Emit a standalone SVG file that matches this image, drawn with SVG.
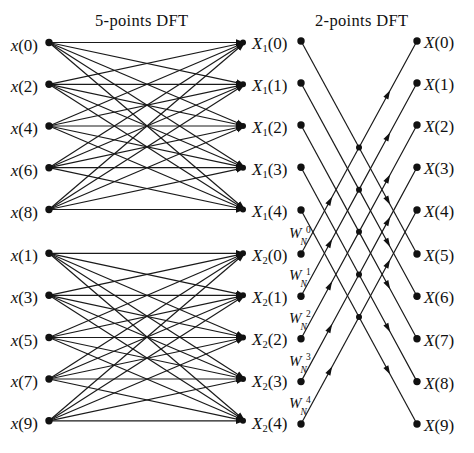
<svg xmlns="http://www.w3.org/2000/svg" width="474" height="453" viewBox="0 0 474 453">
<defs>
<style>
text{font-family:"Liberation Serif","Times New Roman",serif;fill:#111}
.t{font-size:16.5px}
.lb{font-size:17px}
.ml{font-size:17px}
.i{font-style:italic}
.sub{font-size:10.5px}
.w{font-size:15px;font-style:italic}
.ws{font-size:9.5px;font-style:italic}
.sp{font-size:9.5px}
line,path{stroke:#1a1a1a;stroke-width:1.2;fill:none}
.e{marker-end:url(#ah)}
.m{marker-mid:url(#am)}
circle{fill:#111}
</style>
<marker id="ah" viewBox="-9 -4 10 8" refX="0" refY="0" markerWidth="10" markerHeight="8" markerUnits="userSpaceOnUse" orient="auto"><path d="M-9,-3.2 L0,0 L-9,3.2 z" style="fill:#111;stroke:none"/></marker>
<marker id="am" viewBox="-5 -4 10 8" refX="0" refY="0" markerWidth="10" markerHeight="8" markerUnits="userSpaceOnUse" orient="auto"><path d="M-4.5,-2.8 L4.5,0 L-4.5,2.8 z" style="fill:#111;stroke:none"/></marker>
</defs>

<g id="titles">
<text class="t" x="141.5" y="26" text-anchor="middle" textLength="93" lengthAdjust="spacing">5-points DFT</text>
<text class="t" x="361.5" y="26" text-anchor="middle" textLength="93" lengthAdjust="spacing">2-points DFT</text>
</g>

<g id="connectors">
<g id="dft5-upper">
<line class="e" x1="49" y1="42.5" x2="245" y2="42.5"/>
<line class="e" x1="49" y1="42.5" x2="245" y2="84.3"/>
<line class="e" x1="49" y1="42.5" x2="245" y2="126"/>
<line class="e" x1="49" y1="42.5" x2="245" y2="167.7"/>
<line class="e" x1="49" y1="42.5" x2="245" y2="209.5"/>
<line class="e" x1="49" y1="84.3" x2="245" y2="42.5"/>
<line class="e" x1="49" y1="84.3" x2="245" y2="84.3"/>
<line class="e" x1="49" y1="84.3" x2="245" y2="126"/>
<line class="e" x1="49" y1="84.3" x2="245" y2="167.7"/>
<line class="e" x1="49" y1="84.3" x2="245" y2="209.5"/>
<line class="e" x1="49" y1="126" x2="245" y2="42.5"/>
<line class="e" x1="49" y1="126" x2="245" y2="84.3"/>
<line class="e" x1="49" y1="126" x2="245" y2="126"/>
<line class="e" x1="49" y1="126" x2="245" y2="167.7"/>
<line class="e" x1="49" y1="126" x2="245" y2="209.5"/>
<line class="e" x1="49" y1="167.7" x2="245" y2="42.5"/>
<line class="e" x1="49" y1="167.7" x2="245" y2="84.3"/>
<line class="e" x1="49" y1="167.7" x2="245" y2="126"/>
<line class="e" x1="49" y1="167.7" x2="245" y2="167.7"/>
<line class="e" x1="49" y1="167.7" x2="245" y2="209.5"/>
<line class="e" x1="49" y1="209.5" x2="245" y2="42.5"/>
<line class="e" x1="49" y1="209.5" x2="245" y2="84.3"/>
<line class="e" x1="49" y1="209.5" x2="245" y2="126"/>
<line class="e" x1="49" y1="209.5" x2="245" y2="167.7"/>
<line class="e" x1="49" y1="209.5" x2="245" y2="209.5"/>
</g>
<g id="dft5-lower">
<line class="e" x1="49" y1="253.3" x2="245" y2="253.3"/>
<line class="e" x1="49" y1="253.3" x2="245" y2="295.3"/>
<line class="e" x1="49" y1="253.3" x2="245" y2="337.5"/>
<line class="e" x1="49" y1="253.3" x2="245" y2="379"/>
<line class="e" x1="49" y1="253.3" x2="245" y2="420.8"/>
<line class="e" x1="49" y1="295.3" x2="245" y2="253.3"/>
<line class="e" x1="49" y1="295.3" x2="245" y2="295.3"/>
<line class="e" x1="49" y1="295.3" x2="245" y2="337.5"/>
<line class="e" x1="49" y1="295.3" x2="245" y2="379"/>
<line class="e" x1="49" y1="295.3" x2="245" y2="420.8"/>
<line class="e" x1="49" y1="337.5" x2="245" y2="253.3"/>
<line class="e" x1="49" y1="337.5" x2="245" y2="295.3"/>
<line class="e" x1="49" y1="337.5" x2="245" y2="337.5"/>
<line class="e" x1="49" y1="337.5" x2="245" y2="379"/>
<line class="e" x1="49" y1="337.5" x2="245" y2="420.8"/>
<line class="e" x1="49" y1="379" x2="245" y2="253.3"/>
<line class="e" x1="49" y1="379" x2="245" y2="295.3"/>
<line class="e" x1="49" y1="379" x2="245" y2="337.5"/>
<line class="e" x1="49" y1="379" x2="245" y2="379"/>
<line class="e" x1="49" y1="379" x2="245" y2="420.8"/>
<line class="e" x1="49" y1="420.8" x2="245" y2="253.3"/>
<line class="e" x1="49" y1="420.8" x2="245" y2="295.3"/>
<line class="e" x1="49" y1="420.8" x2="245" y2="337.5"/>
<line class="e" x1="49" y1="420.8" x2="245" y2="379"/>
<line class="e" x1="49" y1="420.8" x2="245" y2="420.8"/>
</g>
<g id="dft2">
<path d="M301 41L359 147.5"/>
<path class="m" d="M359 147.5L388 200.75L417 254"/>
<path class="m" d="M301 254L330 200.75L359 147.5"/>
<path class="m" d="M359 147.5L388 94.25L417 41"/>
<path d="M301 83L359 189.65"/>
<path class="m" d="M359 189.65L388 242.98L417 296.3"/>
<path class="m" d="M301 296.3L330 242.98L359 189.65"/>
<path class="m" d="M359 189.65L388 136.33L417 83"/>
<path d="M301 125L359 231.85"/>
<path class="m" d="M359 231.85L388 285.28L417 338.7"/>
<path class="m" d="M301 338.7L330 285.28L359 231.85"/>
<path class="m" d="M359 231.85L388 178.43L417 125"/>
<path d="M301 167.3L359 274.45"/>
<path class="m" d="M359 274.45L388 328.03L417 381.6"/>
<path class="m" d="M301 381.6L330 328.03L359 274.45"/>
<path class="m" d="M359 274.45L388 220.88L417 167.3"/>
<path d="M301 210L359 317"/>
<path class="m" d="M359 317L388 370.5L417 424"/>
<path class="m" d="M301 424L330 370.5L359 317"/>
<path class="m" d="M359 317L388 263.5L417 210"/>
</g>
</g>

<g id="inputs">
<g id="n-x0"><circle cx="49" cy="42.5" r="3.7"/><text class="lb" x="38" y="50.5" text-anchor="end"><tspan class="i">x</tspan>(0)</text></g>
<g id="n-x2"><circle cx="49" cy="84.3" r="3.7"/><text class="lb" x="38" y="92.3" text-anchor="end"><tspan class="i">x</tspan>(2)</text></g>
<g id="n-x4"><circle cx="49" cy="126" r="3.7"/><text class="lb" x="38" y="134" text-anchor="end"><tspan class="i">x</tspan>(4)</text></g>
<g id="n-x6"><circle cx="49" cy="167.7" r="3.7"/><text class="lb" x="38" y="175.7" text-anchor="end"><tspan class="i">x</tspan>(6)</text></g>
<g id="n-x8"><circle cx="49" cy="209.5" r="3.7"/><text class="lb" x="38" y="217.5" text-anchor="end"><tspan class="i">x</tspan>(8)</text></g>
<g id="n-x1"><circle cx="49" cy="253.3" r="3.7"/><text class="lb" x="38" y="261.3" text-anchor="end"><tspan class="i">x</tspan>(1)</text></g>
<g id="n-x3"><circle cx="49" cy="295.3" r="3.7"/><text class="lb" x="38" y="303.3" text-anchor="end"><tspan class="i">x</tspan>(3)</text></g>
<g id="n-x5"><circle cx="49" cy="337.5" r="3.7"/><text class="lb" x="38" y="345.5" text-anchor="end"><tspan class="i">x</tspan>(5)</text></g>
<g id="n-x7"><circle cx="49" cy="379" r="3.7"/><text class="lb" x="38" y="387" text-anchor="end"><tspan class="i">x</tspan>(7)</text></g>
<g id="n-x9"><circle cx="49" cy="420.8" r="3.7"/><text class="lb" x="38" y="428.8" text-anchor="end"><tspan class="i">x</tspan>(9)</text></g>
</g>

<g id="middle">
<g id="n-X10"><circle cx="243" cy="42.5" r="3"/><text class="ml" x="252" y="49"><tspan class="i">X</tspan><tspan class="sub" dy="3">1</tspan><tspan dy="-3">(0)</tspan></text><circle cx="301" cy="41" r="3.7"/></g>
<g id="n-X11"><circle cx="243" cy="84.3" r="3"/><text class="ml" x="252" y="91"><tspan class="i">X</tspan><tspan class="sub" dy="3">1</tspan><tspan dy="-3">(1)</tspan></text><circle cx="301" cy="83" r="3.7"/></g>
<g id="n-X12"><circle cx="243" cy="126" r="3"/><text class="ml" x="252" y="133"><tspan class="i">X</tspan><tspan class="sub" dy="3">1</tspan><tspan dy="-3">(2)</tspan></text><circle cx="301" cy="125" r="3.7"/></g>
<g id="n-X13"><circle cx="243" cy="167.7" r="3"/><text class="ml" x="252" y="174.5"><tspan class="i">X</tspan><tspan class="sub" dy="3">1</tspan><tspan dy="-3">(3)</tspan></text><circle cx="301" cy="167.3" r="3.7"/></g>
<g id="n-X14"><circle cx="243" cy="209.5" r="3"/><text class="ml" x="252" y="216.5"><tspan class="i">X</tspan><tspan class="sub" dy="3">1</tspan><tspan dy="-3">(4)</tspan></text><circle cx="301" cy="210" r="3.7"/></g>
<g id="n-X20"><circle cx="243" cy="253.3" r="3"/><text class="ml" x="252" y="260.5"><tspan class="i">X</tspan><tspan class="sub" dy="3">2</tspan><tspan dy="-3">(0)</tspan></text><circle cx="301" cy="254" r="3.7"/></g>
<g id="n-X21"><circle cx="243" cy="295.3" r="3"/><text class="ml" x="252" y="302.5"><tspan class="i">X</tspan><tspan class="sub" dy="3">2</tspan><tspan dy="-3">(1)</tspan></text><circle cx="301" cy="296.3" r="3.7"/></g>
<g id="n-X22"><circle cx="243" cy="337.5" r="3"/><text class="ml" x="252" y="344.8"><tspan class="i">X</tspan><tspan class="sub" dy="3">2</tspan><tspan dy="-3">(2)</tspan></text><circle cx="301" cy="338.7" r="3.7"/></g>
<g id="n-X23"><circle cx="243" cy="379" r="3"/><text class="ml" x="252" y="386.8"><tspan class="i">X</tspan><tspan class="sub" dy="3">2</tspan><tspan dy="-3">(3)</tspan></text><circle cx="301" cy="381.6" r="3.7"/></g>
<g id="n-X24"><circle cx="243" cy="420.8" r="3"/><text class="ml" x="252" y="428.5"><tspan class="i">X</tspan><tspan class="sub" dy="3">2</tspan><tspan dy="-3">(4)</tspan></text><circle cx="301" cy="424" r="3.7"/></g>
</g>

<g id="twiddles">
<text x="289" y="238"><tspan class="w">W</tspan></text><text class="ws" x="300.5" y="245">N</text><text class="sp" x="306" y="232.5">0</text>
<text x="289" y="280.3"><tspan class="w">W</tspan></text><text class="ws" x="300.5" y="287.3">N</text><text class="sp" x="306" y="274.8">1</text>
<text x="289" y="322.7"><tspan class="w">W</tspan></text><text class="ws" x="300.5" y="329.7">N</text><text class="sp" x="306" y="317.2">2</text>
<text x="289" y="365.6"><tspan class="w">W</tspan></text><text class="ws" x="300.5" y="372.6">N</text><text class="sp" x="306" y="360.1">3</text>
<text x="289" y="408"><tspan class="w">W</tspan></text><text class="ws" x="300.5" y="415">N</text><text class="sp" x="306" y="402.5">4</text>
</g>

<g id="crossings">
<circle cx="359" cy="147.5" r="3"/>
<circle cx="359" cy="189.65" r="3"/>
<circle cx="359" cy="231.85" r="3"/>
<circle cx="359" cy="274.45" r="3"/>
<circle cx="359" cy="317" r="3"/>
</g>

<g id="outputs">
<g id="n-Y0"><circle cx="417" cy="41" r="3.7"/><text class="lb" x="424" y="48"><tspan class="i">X</tspan>(0)</text></g>
<g id="n-Y1"><circle cx="417" cy="83" r="3.7"/><text class="lb" x="424" y="90"><tspan class="i">X</tspan>(1)</text></g>
<g id="n-Y2"><circle cx="417" cy="125" r="3.7"/><text class="lb" x="424" y="132"><tspan class="i">X</tspan>(2)</text></g>
<g id="n-Y3"><circle cx="417" cy="167.3" r="3.7"/><text class="lb" x="424" y="174.3"><tspan class="i">X</tspan>(3)</text></g>
<g id="n-Y4"><circle cx="417" cy="210" r="3.7"/><text class="lb" x="424" y="217"><tspan class="i">X</tspan>(4)</text></g>
<g id="n-Y5"><circle cx="417" cy="254" r="3.7"/><text class="lb" x="424" y="261"><tspan class="i">X</tspan>(5)</text></g>
<g id="n-Y6"><circle cx="417" cy="296.3" r="3.7"/><text class="lb" x="424" y="303.3"><tspan class="i">X</tspan>(6)</text></g>
<g id="n-Y7"><circle cx="417" cy="338.7" r="3.7"/><text class="lb" x="424" y="345.7"><tspan class="i">X</tspan>(7)</text></g>
<g id="n-Y8"><circle cx="417" cy="381.6" r="3.7"/><text class="lb" x="424" y="388.6"><tspan class="i">X</tspan>(8)</text></g>
<g id="n-Y9"><circle cx="417" cy="424" r="3.7"/><text class="lb" x="424" y="431"><tspan class="i">X</tspan>(9)</text></g>
</g>
</svg>
